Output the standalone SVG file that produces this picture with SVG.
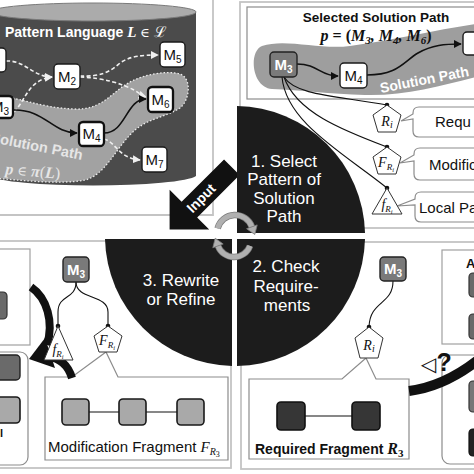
<svg xmlns="http://www.w3.org/2000/svg" width="474" height="474" viewBox="0 0 474 474">
<defs>
<style>
.frame{fill:none;stroke:#c4c4c4;stroke-width:1.8}
.box{fill:#fff;stroke:#8c8c8c;stroke-width:1.2}
.nw{fill:#fff;stroke:#1a1a1a;stroke-width:1.4}
.nwb{fill:#fff;stroke:#111;stroke-width:2.3}
.nd{fill:#7a7a7a;stroke:#222;stroke-width:1.4}
.ng{fill:#a9a9a9;stroke:#1a1a1a;stroke-width:1.6}
.nk{fill:#363636;stroke:#111;stroke-width:1.6}
.sans{font-family:"Liberation Sans",Arial,sans-serif}
.mi{font-family:"Liberation Serif","Times New Roman",serif;font-style:italic}
.ml{font-family:"Liberation Sans",Arial,sans-serif;font-size:15px;fill:#111;text-anchor:middle}
.mw{font-family:"Liberation Sans",Arial,sans-serif;font-size:15px;font-weight:bold;fill:#fff;text-anchor:middle}
.quad{fill:#1c1c1c}
.qt{font-family:"Liberation Sans",Arial,sans-serif;font-size:17px;fill:#fff;text-anchor:middle}
.wd{fill:none;stroke:#f0f0f0;stroke-width:1.6;stroke-dasharray:4 2.5}
.bk{fill:none;stroke:#111;stroke-width:1.6}
.thin{fill:none;stroke:#111;stroke-width:1.1}
.dot{fill:#111}
.shape{fill:#fff;stroke:#333;stroke-width:1}
.call{fill:#fff;stroke:#8c8c8c;stroke-width:1.2}
.big{fill:none;stroke:#111;stroke-width:8}
.rot{fill:none;stroke:#b0b0b0;stroke-width:5}
.ct{font-family:"Liberation Sans",Arial,sans-serif;font-size:15px;fill:#111}
</style>
<marker id="aw" viewBox="0 0 10 10" refX="9" refY="5" markerWidth="5" markerHeight="5" orient="auto"><path d="M0,0 L10,5 L0,10 Z" fill="#f0f0f0"/></marker>
<marker id="ab" viewBox="0 0 10 10" refX="9" refY="5" markerWidth="5" markerHeight="5" orient="auto"><path d="M0,0 L10,5 L0,10 Z" fill="#111"/></marker>
</defs>

<rect width="474" height="474" fill="#fff"/>

<!-- panel frames -->
<g id="frames">
<path class="frame" d="M213,-2 V215 H-2"/>
<rect class="frame" x="240" y="2" width="240" height="226"/>
<rect class="frame" x="-5" y="241" width="236" height="227"/>
<rect class="frame" x="241" y="242" width="240" height="227"/>
</g>

<!-- top-left: pattern language cylinder -->
<g id="cylinder">
<path d="M-10,12 L-10,176 A104,11 0 0 0 196,176 L196,12 Z" fill="#4b4b4b"/>
<ellipse cx="93" cy="12" rx="103" ry="9" fill="#ababab" stroke="#7a7a7a" stroke-width="1"/>
<path d="M-8,95 C20,97 40,108 75,109 C100,110 110,95 125,85 C140,75 165,70 180,74 C192,78 190,100 180,108 C165,118 145,118 130,135 C115,150 105,175 85,180 C60,185 20,180 -8,178 Z" fill="#a2a2a2" stroke="#ececec" stroke-width="1.3" stroke-dasharray="1.5 2"/>
<text class="sans" x="5" y="37" font-size="14" font-weight="bold" fill="#fff">Pattern Language <tspan class="mi" font-size="15">L</tspan> <tspan font-family="'DejaVu Serif',serif" font-weight="normal" font-size="13">∈</tspan> <tspan font-family="'DejaVu Serif',serif" font-weight="normal" font-size="15">ℒ</tspan></text>
<text class="sans" transform="translate(-10,142) rotate(11)" font-size="14.5" font-weight="bold" fill="#e6e6e6">Solution Path</text>
<text transform="translate(5,174) rotate(5)" font-size="16" fill="#e6e6e6"><tspan class="mi" font-weight="bold">p</tspan><tspan font-family="'DejaVu Serif',serif" font-size="13"> ∈ </tspan><tspan class="mi" font-weight="bold">π</tspan><tspan font-family="'Liberation Serif',serif">(</tspan><tspan class="mi" font-weight="bold">L</tspan><tspan font-family="'Liberation Serif',serif">)</tspan></text>
</g>

<g id="tl-connectors">
<path class="wd" d="M6,61 C25,60 33,77 52,77" marker-end="url(#aw)"/>
<path class="wd" d="M14,112 C26,100 28,80 52,77" marker-end="url(#aw)"/>
<path class="wd" d="M80,76 C100,77 110,72 120,63 C130,56 142,55 158,55" marker-end="url(#aw)"/>
<path class="wd" d="M80,77 C105,78 122,84 134,90 C139,93 143,96 146,97" marker-end="url(#aw)"/>
<path class="wd" d="M104,139 C116,142 118,158 140,160" marker-end="url(#aw)"/>
<path class="bk" d="M13,110 C45,109 52,133 77,133" marker-end="url(#ab)"/>
<path class="bk" d="M104,133 C126,133 126,99 146,99" marker-end="url(#ab)"/>
</g>

<g id="L-M1"><rect class="nw" x="-20" y="48" width="26" height="24" rx="4"/></g>
<g id="L-M2"><rect class="nw" x="54" y="64" width="26" height="25" rx="4"/><text class="ml" x="67" y="82">M<tspan dy="3" font-size="10">2</tspan></text></g>
<g id="L-M5"><rect class="nw" x="160" y="42" width="25" height="25" rx="4"/><text class="ml" x="172.5" y="60">M<tspan dy="3" font-size="10">5</tspan></text></g>
<g id="L-M6"><rect class="nwb" x="148" y="87" width="25" height="25" rx="4"/><text class="ml" x="160.5" y="105">M<tspan dy="3" font-size="10">6</tspan></text></g>
<g id="L-M3"><rect class="nwb" x="-13" y="96" width="26" height="22" rx="4"/><text class="ml" x="0" y="112" text-anchor="middle">M<tspan dy="3" font-size="10">3</tspan></text></g>
<g id="L-M4"><rect class="nwb" x="79" y="122" width="25" height="24" rx="4"/><text class="ml" x="91.5" y="139">M<tspan dy="3" font-size="10">4</tspan></text></g>
<g id="L-M7"><rect class="nw" x="142" y="147" width="25" height="25" rx="4"/><text class="ml" x="154.5" y="165">M<tspan dy="3" font-size="10">7</tspan></text></g>

<!-- input arrow -->
<g id="input">
<polygon points="-4,-11 56,-11 56,-28 84,0 56,28 56,11 -4,11" fill="#111" transform="translate(229,170) rotate(135)"/>
<text class="sans" transform="translate(201,198) rotate(-45)" x="0" y="5" font-size="14" font-weight="bold" fill="#fff" text-anchor="middle">Input</text>
</g>

<!-- top-right panel -->
<g id="tr-panel">
<rect class="box" x="247" y="7" width="240" height="92"/>
<path d="M262,46 C285,38 320,50 350,46 C395,40 435,30 476,24 L476,77 C440,86 405,96 365,95 C330,94 300,90 272,89 C252,88 248,52 262,46 Z" fill="#9e9e9e"/>
<text class="sans" transform="translate(381,93) rotate(-11)" font-size="14" font-weight="bold" fill="#fff">Solution Path</text>
<text class="sans" x="376" y="22" font-size="13.5" font-weight="bold" fill="#111" text-anchor="middle">Selected Solution Path</text>
<text class="mi" x="376" y="41" font-size="16" font-weight="bold" fill="#111" text-anchor="middle">p <tspan font-style="normal">=</tspan> <tspan font-style="normal">(</tspan>M<tspan dy="3" font-size="11">3</tspan><tspan dy="-3">, M</tspan><tspan dy="3" font-size="11">4</tspan><tspan dy="-3">, M</tspan><tspan dy="3" font-size="11">6</tspan><tspan dy="-3" font-style="normal">)</tspan></text>
</g>

<g id="tr-connectors">
<path class="bk" d="M297,64 C318,64 320,76 338,76" marker-end="url(#ab)"/>
<path class="bk" d="M367,75 C398,75 403,62 418,53 C432,45 445,44 461,44" marker-end="url(#ab)"/>
<path class="thin" d="M284,77 C296,96 340,96 387,105"/>
<path class="thin" d="M284,77 C296,112 342,130 387,147"/>
<path class="thin" d="M282,77 C286,122 342,152 387,188"/>
<circle class="dot" cx="387" cy="105" r="2.3"/>
<circle class="dot" cx="387" cy="147" r="2.3"/>
<circle class="dot" cx="387" cy="188" r="2.3"/>
</g>

<g id="R-M3"><rect class="nd" x="270" y="52" width="27" height="25" rx="4"/><text class="mw" x="283.5" y="70">M<tspan dy="3" font-size="10">3</tspan></text></g>
<g id="R-M4"><rect class="nw" x="340" y="63" width="27" height="25" rx="4"/><text class="ml" x="353.5" y="81">M<tspan dy="3" font-size="10">4</tspan></text></g>
<g id="R-M6"><rect class="nw" x="463" y="32" width="26" height="23" rx="4"/></g>

<g id="callout-req">
<path class="call" d="M480,107 H419 Q413,107 413,113 V114 L401,121 L413,119 V131 Q413,137 419,137 H480"/>
<text class="ct" x="435" y="127">Requ</text>
</g>
<g id="callout-mod">
<path class="call" d="M480,148 H420 Q414,148 414,154 V155 L400,163 L414,161 V174 Q414,180 420,180 H480"/>
<text class="ct" x="429" y="170">Modific</text>
</g>
<g id="callout-loc">
<path class="call" d="M480,192 H421 Q415,192 415,198 V199 L397,206 L415,205 V216 Q415,222 421,222 H480"/>
<text class="ct" x="419" y="213">Local Pat</text>
</g>

<g id="R-Ri">
<polygon class="shape" points="387,105 401,115 396,132 378,132 373,115"/>
<text class="mi" x="387" y="126" font-size="14" fill="#111" text-anchor="middle">R<tspan dy="2" font-size="10">i</tspan></text>
</g>
<g id="R-FRi">
<polygon class="shape" points="387,147 401,157 396,174 378,174 373,157"/>
<text class="mi" x="386" y="167" font-size="14" fill="#111" text-anchor="middle">F<tspan dy="3" font-size="9">R</tspan><tspan dy="1.5" font-size="6.5">i</tspan></text>
</g>
<g id="R-fRi">
<polygon class="shape" points="387,188 402,214 372,214"/>
<text class="mi" x="387" y="209" font-size="14" fill="#111" text-anchor="middle">f<tspan dy="3" font-size="9">R</tspan><tspan dy="1.5" font-size="6.5">i</tspan></text>
</g>

<!-- central cycle quadrants -->
<g id="step1">
<path class="quad" d="M237,233 L237,106 A130,130 0 0 1 365,233 Z"/>
<text class="qt" x="284" y="167">1. Select</text>
<text class="qt" x="284" y="185">Pattern of</text>
<text class="qt" x="284" y="204">Solution</text>
<text class="qt" x="284" y="222">Path</text>
</g>
<g id="step2">
<path class="quad" d="M237,239 L365,239 A130,130 0 0 1 237,366 Z"/>
<text class="qt" x="286" y="272">2. Check</text>
<text class="qt" x="286" y="292">Require-</text>
<text class="qt" x="287" y="311">ments</text>
</g>
<g id="step3">
<path class="quad" d="M232,239 L232,366 A130,130 0 0 1 105,239 Z"/>
<text class="qt" x="181" y="286">3. Rewrite</text>
<text class="qt" x="181" y="305">or Refine</text>
</g>
<g id="cycle-arrows">
<path d="M217.6,228.3 A18,18 0 0 1 251.9,226.8" fill="none" stroke="#7c7c7c" stroke-width="6.5"/>
<path d="M217.6,228.3 A18,18 0 0 1 251.9,226.8" class="rot"/>
<polygon points="254.8,234.5 257.2,224.9 246.6,228.7" fill="#b0b0b0" stroke="#7c7c7c" stroke-width="0.8"/>
<path d="M250,245.8 A17,17 0 0 1 218,245.8" fill="none" stroke="#7c7c7c" stroke-width="6.5"/>
<path d="M250,245.8 A17,17 0 0 1 218,245.8" class="rot"/>
<polygon points="215.2,238.2 212.8,247.8 223.2,244" fill="#b0b0b0" stroke="#7c7c7c" stroke-width="0.8"/>
</g>

<!-- bottom-left panel -->
<g id="bl-leftboxes">
<rect x="-5" y="249" width="35" height="96" fill="#fff" stroke="#a0a0a0" stroke-width="1.2"/>
<rect x="-10" y="292" width="17" height="27" rx="4" fill="#6a6a6a" stroke="#333" stroke-width="1.2"/>
<rect x="-12" y="352" width="40" height="113" rx="8" fill="#fff" stroke="#8c8c8c" stroke-width="1.2"/>
<rect x="-10" y="355" width="30" height="25" rx="4" fill="#6a6a6a" stroke="#222" stroke-width="1.4"/>
<rect x="-10" y="397" width="30" height="26" rx="4" fill="#a9a9a9" stroke="#1a1a1a" stroke-width="1.6"/>
<text class="sans" x="0" y="437" font-size="11" font-weight="bold" fill="#111">l</text>
</g>
<g id="mod-fragment">
<path class="call" d="M45,377 H72 L106,352 L118,377 H228 V460 H45 Z"/>
<path class="thin" d="M89,412 H119 M146,412 H177"/>
<rect class="ng" x="62" y="399" width="27" height="26" rx="4"/>
<rect class="ng" x="119" y="399" width="27" height="26" rx="4"/>
<rect class="ng" x="177" y="399" width="27" height="26" rx="4"/>
<text class="ct" x="48" y="452">Modification Fragment <tspan class="mi" font-size="15">F</tspan><tspan class="mi" dy="3" font-size="10">R</tspan><tspan dy="1.5" font-size="8" font-family="'Liberation Serif',serif">3</tspan></text>
</g>
<g id="bl-connectors">
<path class="thin" d="M76,282 C76,300 58,294 58,312 V326"/>
<path class="thin" d="M76,282 C76,300 108,294 108,312 V326"/>
<circle class="dot" cx="58" cy="326" r="2.3"/>
<circle class="dot" cx="108" cy="326" r="2.3"/>
<path class="big" d="M31,287 C47,298 54,322 47,345"/>
<path class="big" d="M72,378 C68,365 60,358 48,357"/>
<polygon points="29,359 45,338 55,368" fill="#111"/>
</g>
<g id="BL-M3"><rect class="nd" x="63" y="257" width="26" height="25" rx="4"/><text class="mw" x="76" y="275">M<tspan dy="3" font-size="10">3</tspan></text></g>
<g id="BL-fRi">
<polygon class="shape" points="58,326 73,360 44,360"/>
<text class="mi" x="58" y="354" font-size="14" fill="#111" text-anchor="middle">f<tspan dy="3" font-size="9">R</tspan><tspan dy="1.5" font-size="6.5">i</tspan></text>
</g>
<g id="BL-FRi">
<polygon class="shape" points="108,326 122,336 117,352 99,352 94,336"/>
<text class="mi" x="107" y="345" font-size="14" fill="#111" text-anchor="middle">F<tspan dy="3" font-size="9">R</tspan><tspan dy="1.5" font-size="6.5">i</tspan></text>
</g>

<!-- bottom-right panel -->
<g id="br-rightboxes">
<rect x="442" y="250" width="45" height="94" fill="#fff" stroke="#a0a0a0" stroke-width="1.2"/>
<text class="sans" x="466" y="268" font-size="13" font-weight="bold" fill="#111">A</text>
<rect x="469" y="273" width="20" height="24" rx="4" fill="#6a6a6a" stroke="#333" stroke-width="1.2"/>
<rect x="469" y="314" width="20" height="25" rx="4" fill="#6a6a6a" stroke="#333" stroke-width="1.2"/>
<rect x="442" y="355" width="50" height="109" rx="8" fill="#fff" stroke="#8c8c8c" stroke-width="1.2"/>
<rect x="469" y="381" width="20" height="31" rx="4" fill="#777" stroke="#333" stroke-width="1.2"/>
<rect x="469" y="429" width="20" height="27" rx="4" fill="#222" stroke="#111" stroke-width="1.2"/>
</g>
<g id="req-fragment">
<path class="call" d="M249,379 H342 L366,358 L376,379 H409 V459 H249 Z"/>
<path class="thin" d="M305,416 H352"/>
<rect class="nk" x="277" y="402" width="28" height="28" rx="4"/>
<rect class="nk" x="352" y="402" width="28" height="28" rx="4"/>
<text class="sans" x="255" y="454" font-size="14" font-weight="bold" fill="#111">Required Fragment <tspan class="mi" font-size="16">R</tspan><tspan dy="3" font-size="11" font-family="'Liberation Serif',serif">3</tspan></text>
</g>
<g id="br-connectors">
<path class="thin" d="M393,281 C393,305 370,300 369,327"/>
<circle class="dot" cx="369" cy="327" r="2.3"/>
<path fill="none" stroke="#111" stroke-width="10" d="M409,391 C432,388 455,378 478,360"/>
<text x="421" y="371" font-size="25" font-weight="bold" fill="#111"><tspan font-family="'DejaVu Sans',sans-serif" font-size="20">◁</tspan><tspan font-family="'Liberation Sans',Arial,sans-serif">?</tspan></text>
</g>
<g id="BR-M3"><rect class="nd" x="380" y="257" width="26" height="24" rx="4"/><text class="mw" x="393" y="274">M<tspan dy="3" font-size="10">3</tspan></text></g>
<g id="BR-Ri">
<polygon class="shape" points="369,327 383,338 378,358 360,358 355,338"/>
<text class="mi" x="369" y="350" font-size="14" fill="#111" text-anchor="middle">R<tspan dy="2" font-size="10">i</tspan></text>
</g>
</svg>
